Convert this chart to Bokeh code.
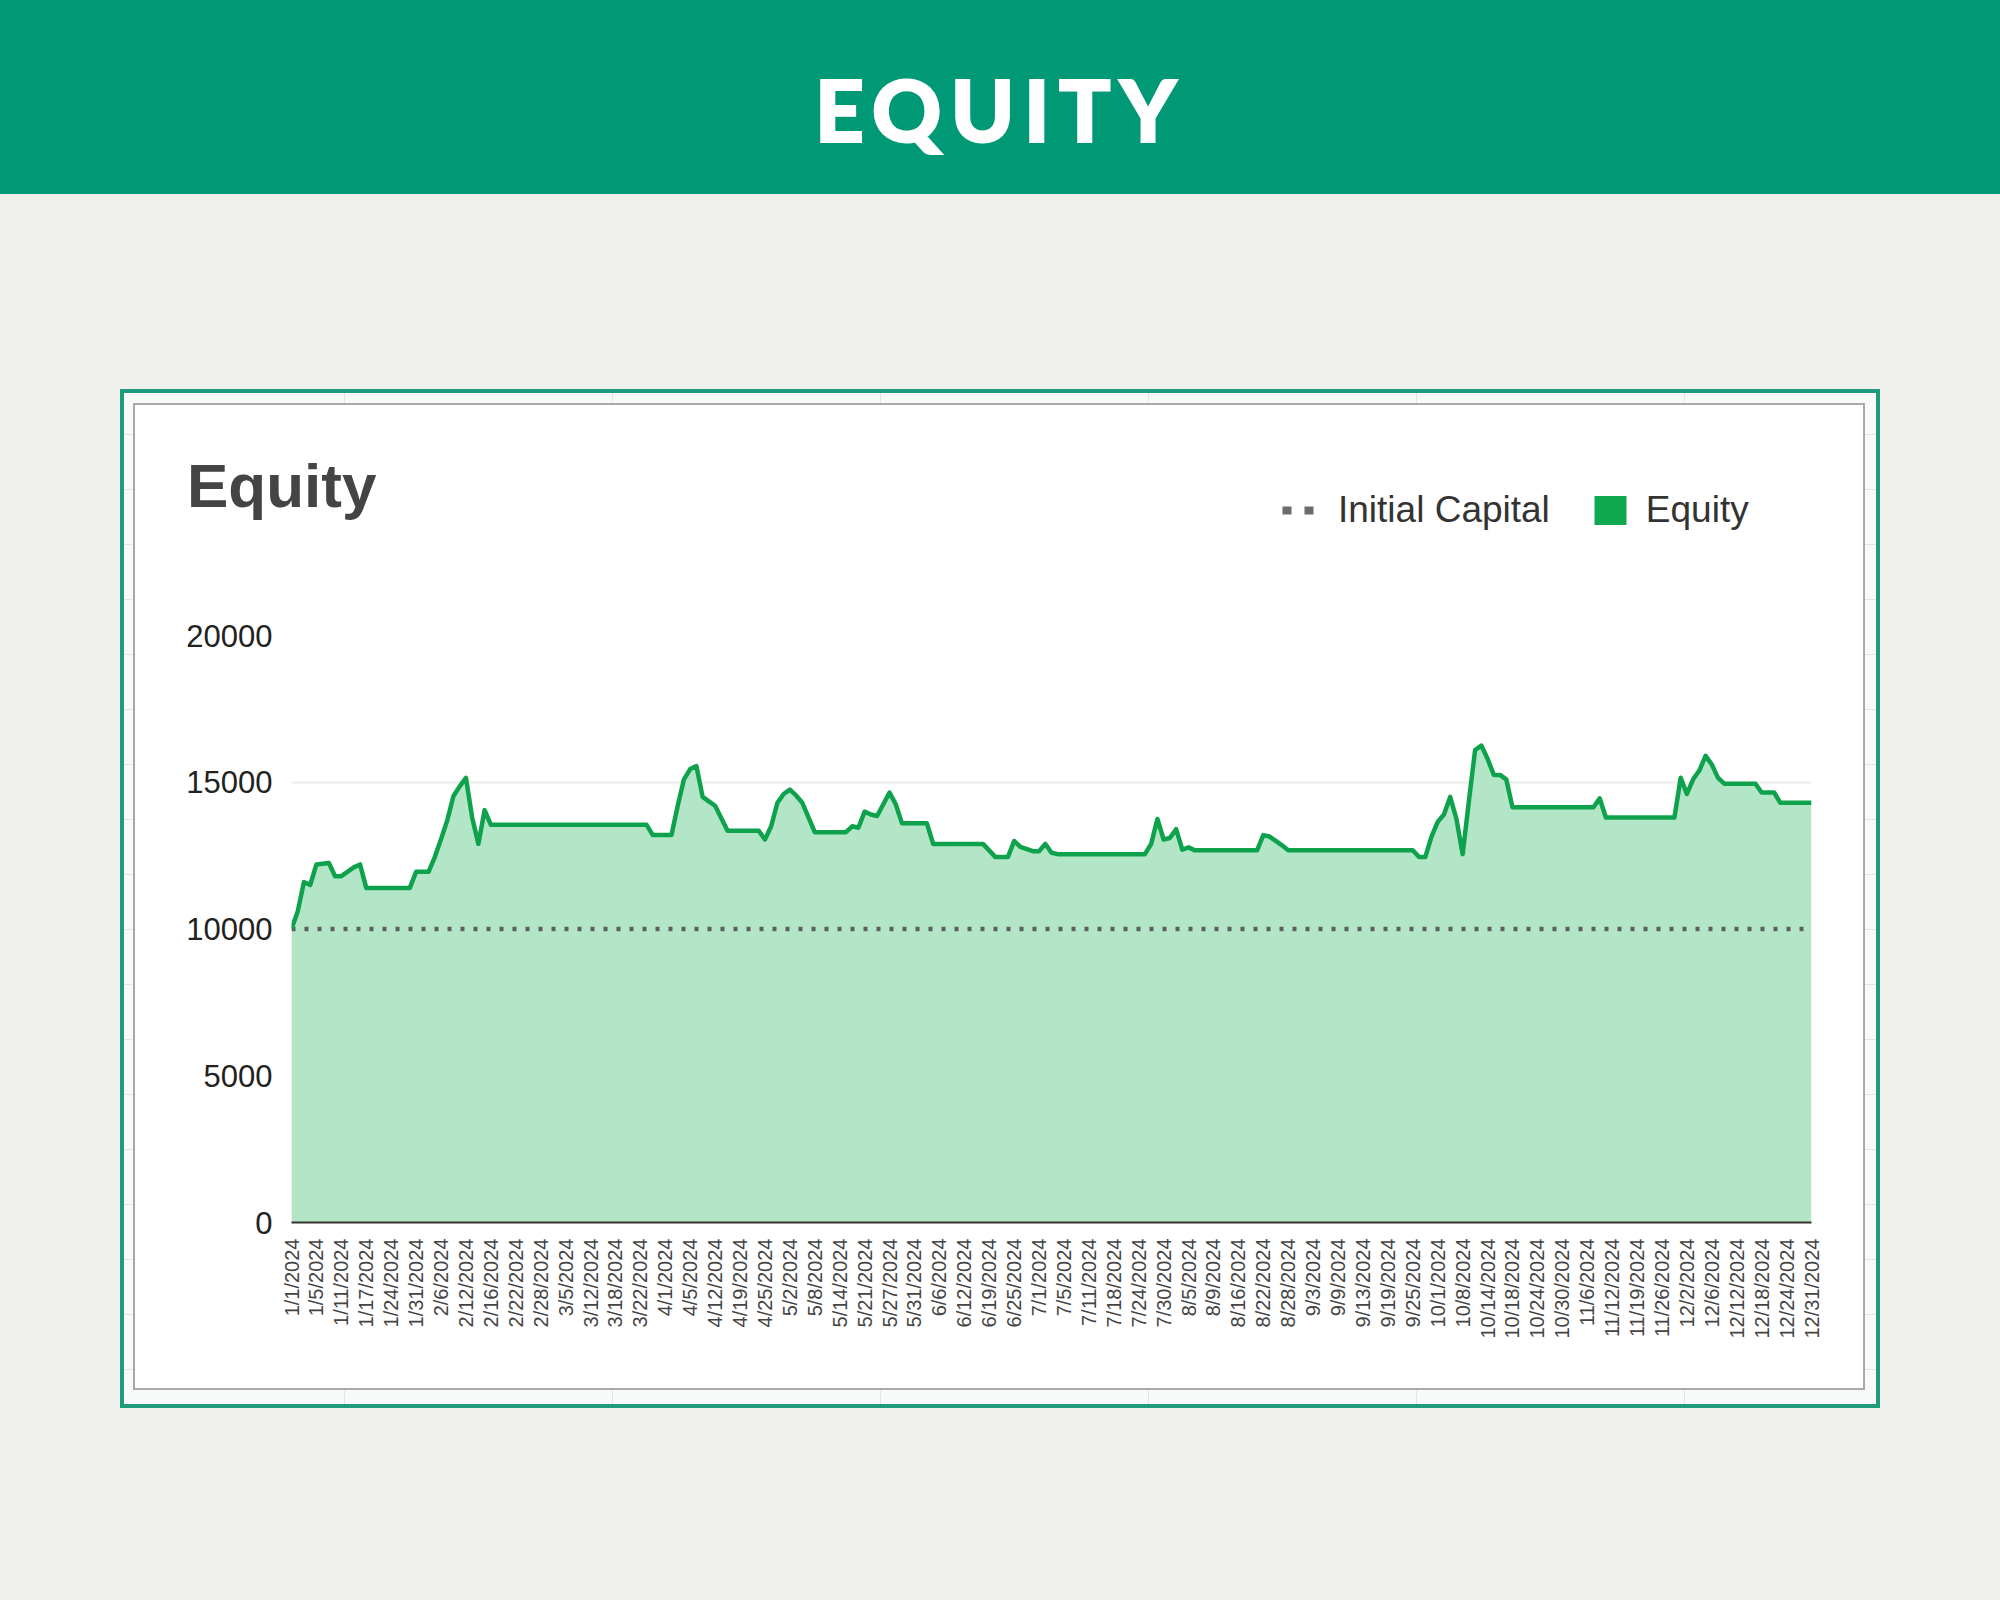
import math
from bokeh.plotting import figure
from bokeh.models import (Range1d, FixedTicker, Legend, LegendItem, Div,
                          ColumnDataSource)
from bokeh.layouts import column
from bokeh.embed import file_html
from bokeh.resources import INLINE

# ---------------- data ----------------
date_labels = ["1/1/2024", "1/5/2024", "1/11/2024", "1/17/2024", "1/24/2024", "1/31/2024",
               "2/6/2024", "2/12/2024", "2/16/2024", "2/22/2024", "2/28/2024",
               "3/5/2024", "3/12/2024", "3/18/2024", "3/22/2024",
               "4/1/2024", "4/5/2024", "4/12/2024", "4/19/2024", "4/25/2024",
               "5/2/2024", "5/8/2024", "5/14/2024", "5/21/2024", "5/27/2024", "5/31/2024",
               "6/6/2024", "6/12/2024", "6/19/2024", "6/25/2024",
               "7/1/2024", "7/5/2024", "7/11/2024", "7/18/2024", "7/24/2024", "7/30/2024",
               "8/5/2024", "8/9/2024", "8/16/2024", "8/22/2024", "8/28/2024",
               "9/3/2024", "9/9/2024", "9/13/2024", "9/19/2024", "9/25/2024",
               "10/1/2024", "10/8/2024", "10/14/2024", "10/18/2024", "10/24/2024", "10/30/2024",
               "11/6/2024", "11/12/2024", "11/19/2024", "11/26/2024",
               "12/2/2024", "12/6/2024", "12/12/2024", "12/18/2024", "12/24/2024", "12/31/2024"]
rows_per_label = 4

# trading-day row index and equity value at that row
equity_row = [0, 1, 2, 3, 4, 6, 7, 8, 10, 11, 12, 19, 20, 22, 23, 24, 25, 26, 27, 28,
              29, 30, 31, 32, 57, 58, 61, 62, 63, 64, 65, 66, 67, 68, 70, 75, 76, 77, 78, 79,
              80, 81, 82, 84, 89, 90, 91, 92, 93, 94, 96, 97, 98, 102, 103, 111, 113, 115, 116, 117,
              119, 120, 121, 122, 123, 137, 138, 139, 140, 141, 142, 143, 144, 145, 155, 156, 157, 158, 159, 160,
              180, 181, 182, 183, 184, 185, 186, 187, 188, 189, 190, 191, 192, 193, 194, 195, 196, 209, 210, 211,
              222, 223, 224, 225, 226, 227, 228, 229, 230, 235, 236, 238, 239, 244]
equity_value = [10000, 10600, 11600, 11500, 12200, 12250, 11800, 11800, 12100, 12200, 11400, 11400, 11950, 11950, 12450, 13060, 13700, 14530, 14860, 15150,
                13800, 12900, 14050, 13550, 13550, 13200, 13200, 14200, 15100, 15450, 15550, 14500, 14350, 14200, 13350, 13350, 13050, 13500, 14300, 14600,
                14750, 14550, 14300, 13300, 13300, 13500, 13450, 14000, 13900, 13850, 14650, 14250, 13600, 13600, 12900, 12900, 12450, 12450, 13000, 12800,
                12650, 12650, 12900, 12600, 12550, 12550, 12900, 13750, 13050, 13100, 13400, 12700, 12780, 12680, 12680, 13200, 13150, 13000, 12850, 12680,
                12680, 12450, 12450, 13150, 13650, 13900, 14500, 13750, 12550, 14350, 16100, 16250, 15800, 15250, 15250, 15100, 14150, 14150, 14450, 13800,
                13800, 15150, 14600, 15100, 15400, 15900, 15600, 15150, 14950, 14950, 14650, 14650, 14300, 14300]
initial_capital = 10000
y_ticks = [0, 5000, 10000, 15000, 20000]

n_rows = (len(date_labels) - 1) * rows_per_label
font = "Liberation Sans"

src = ColumnDataSource(dict(x=equity_row, y=equity_value,
                            base=[0] * len(equity_row),
                            cap=[initial_capital] * len(equity_row)))

CAP_COLOR = "#5f5f5f"
LINE_COLOR = "#0EA24D"
FILL_COLOR = "#B3E6C7"

# ---------------- header strip (legend) ----------------
HEAD_H = 135
head = figure(width=1728, height=HEAD_H, output_backend="svg", toolbar_location=None,
              x_range=Range1d(0, 1), y_range=Range1d(0, 1),
              x_axis_type=None, y_axis_type=None, min_border=0,
              background_fill_color="white", border_fill_color="white",
              margin=(0, 0, 0, 0), sizing_mode="fixed")
head.outline_line_color = None

# legend proxies (hidden; they only lend their style to the legend)
leg_line = head.line(x="x", y="cap", source=src, line_color="#6b6b6b", line_width=8,
                     line_dash="9 13", line_cap="butt", visible=False)
leg_area = head.varea(x="x", y1="base", y2="y", source=src, fill_color="#0FAA50",
                      fill_alpha=1.0, visible=False)

legend = Legend(items=[LegendItem(label="Initial Capital", renderers=[leg_line]),
                       LegendItem(label="Equity", renderers=[leg_area])],
                orientation="horizontal", location=(991, 9), click_policy="none",
                border_line_color=None, background_fill_alpha=0,
                inactive_fill_alpha=0,
                padding=0, margin=0, spacing=40, label_standoff=16,
                glyph_width=40, glyph_height=36,
                label_text_font=font, label_text_font_size="37px",
                label_text_color="#333333")
head.add_layout(legend)

# ---------------- main chart ----------------
p = figure(width=1728, height=848, output_backend="svg", toolbar_location=None,
           x_range=Range1d(0, n_rows), y_range=Range1d(0, 20000),
           min_border_left=156, min_border_right=52, min_border_top=95, min_border_bottom=166,
           background_fill_color="white", border_fill_color="white",
           margin=(0, 0, 0, 0), sizing_mode="fixed")
p.outline_line_color = None

p.varea(x="x", y1="base", y2="y", source=src, fill_color=FILL_COLOR, fill_alpha=1.0)
p.line(x="x", y="cap", source=src, line_color=CAP_COLOR, line_width=4.5,
       line_dash="4 9", line_cap="butt")
p.line(x="x", y="y", source=src, line_color=LINE_COLOR, line_width=4.5, line_join="round")

p.xaxis.ticker = FixedTicker(ticks=[i * rows_per_label for i in range(len(date_labels))])
p.xaxis.major_label_overrides = {i * rows_per_label: lab for i, lab in enumerate(date_labels)}
p.xaxis.major_label_orientation = math.pi / 2
p.xaxis.major_label_text_font = font
p.xaxis.major_label_text_font_size = "20px"
p.xaxis.major_label_text_color = "#444444"
p.xaxis.major_label_standoff = 10
p.xaxis.major_tick_line_color = None
p.xaxis.minor_tick_line_color = None
p.xaxis.axis_line_color = "#333333"
p.xaxis.axis_line_width = 2

p.yaxis.ticker = FixedTicker(ticks=y_ticks)
p.yaxis.major_label_text_font = font
p.yaxis.major_label_text_font_size = "31px"
p.yaxis.major_label_text_color = "#222222"
p.yaxis.major_label_standoff = 13
p.yaxis.major_tick_line_color = None
p.yaxis.minor_tick_line_color = None
p.yaxis.axis_line_color = None

p.xgrid.grid_line_color = None
p.ygrid.ticker = FixedTicker(ticks=y_ticks)
p.ygrid.grid_line_color = "#EBEBEB"
p.ygrid.grid_line_width = 2

# chart title, laid over the top-left corner of the chart box
chart_title = Div(text=('<div style="margin:0;padding:0;font-family:\'Liberation Sans\';'
                        'font-weight:bold;font-size:62px;line-height:62px;color:#444444;'
                        'white-space:nowrap;">Equity</div>'),
                  width=300, height=70, margin=(-933, 0, 0, 52), sizing_mode="fixed")

# ---------------- page layout ----------------
banner_html = ('<div style="width:2000px;height:194px;display:flex;align-items:center;'
               'justify-content:center;">'
               '<span style="font-family:Lato;font-weight:900;font-size:86px;letter-spacing:9px;'
               '-webkit-text-stroke:2px #ffffff;'
               'color:#ffffff;position:relative;top:12px;">EQUITY</span></div>')
banner = Div(text=banner_html, width=2000, height=194, margin=(0, 0, 0, 0),
             styles={"background-color": "#009976"}, sizing_mode="fixed")

whitebox = column(head, p, chart_title, width=1728, height=983, margin=(2, 2, 2, 2),
                  sizing_mode="fixed", spacing=0, styles={"background-color": "#FFFFFF"})
greybox = column(whitebox, width=1732, height=987, margin=(10, 11, 14, 9), sizing_mode="fixed",
                 styles={"background-color": "#A9A9A9"})
inner = column(greybox, width=1752, height=1011, margin=(4, 4, 4, 4), sizing_mode="fixed",
               styles={"background-color": "#F8F9F9",
                       "background-image": "linear-gradient(to right, #E2E5E3 1px, transparent 1px), "
                                           "linear-gradient(to bottom, #E2E5E3 1px, transparent 1px)",
                       "background-size": "268px 100%, 100% 55px",
                       "background-position": "220px 0, 0 41px"})
outer = column(inner, width=1760, height=1019, margin=(195, 0, 0, 120), sizing_mode="fixed",
               styles={"background-color": "#1E9A7C"})
root = column(banner, outer, width=2000, height=1600, sizing_mode="fixed",
              styles={"background-color": "#EFF0EC"})

open("out.html", "w").write(file_html(root, INLINE))
